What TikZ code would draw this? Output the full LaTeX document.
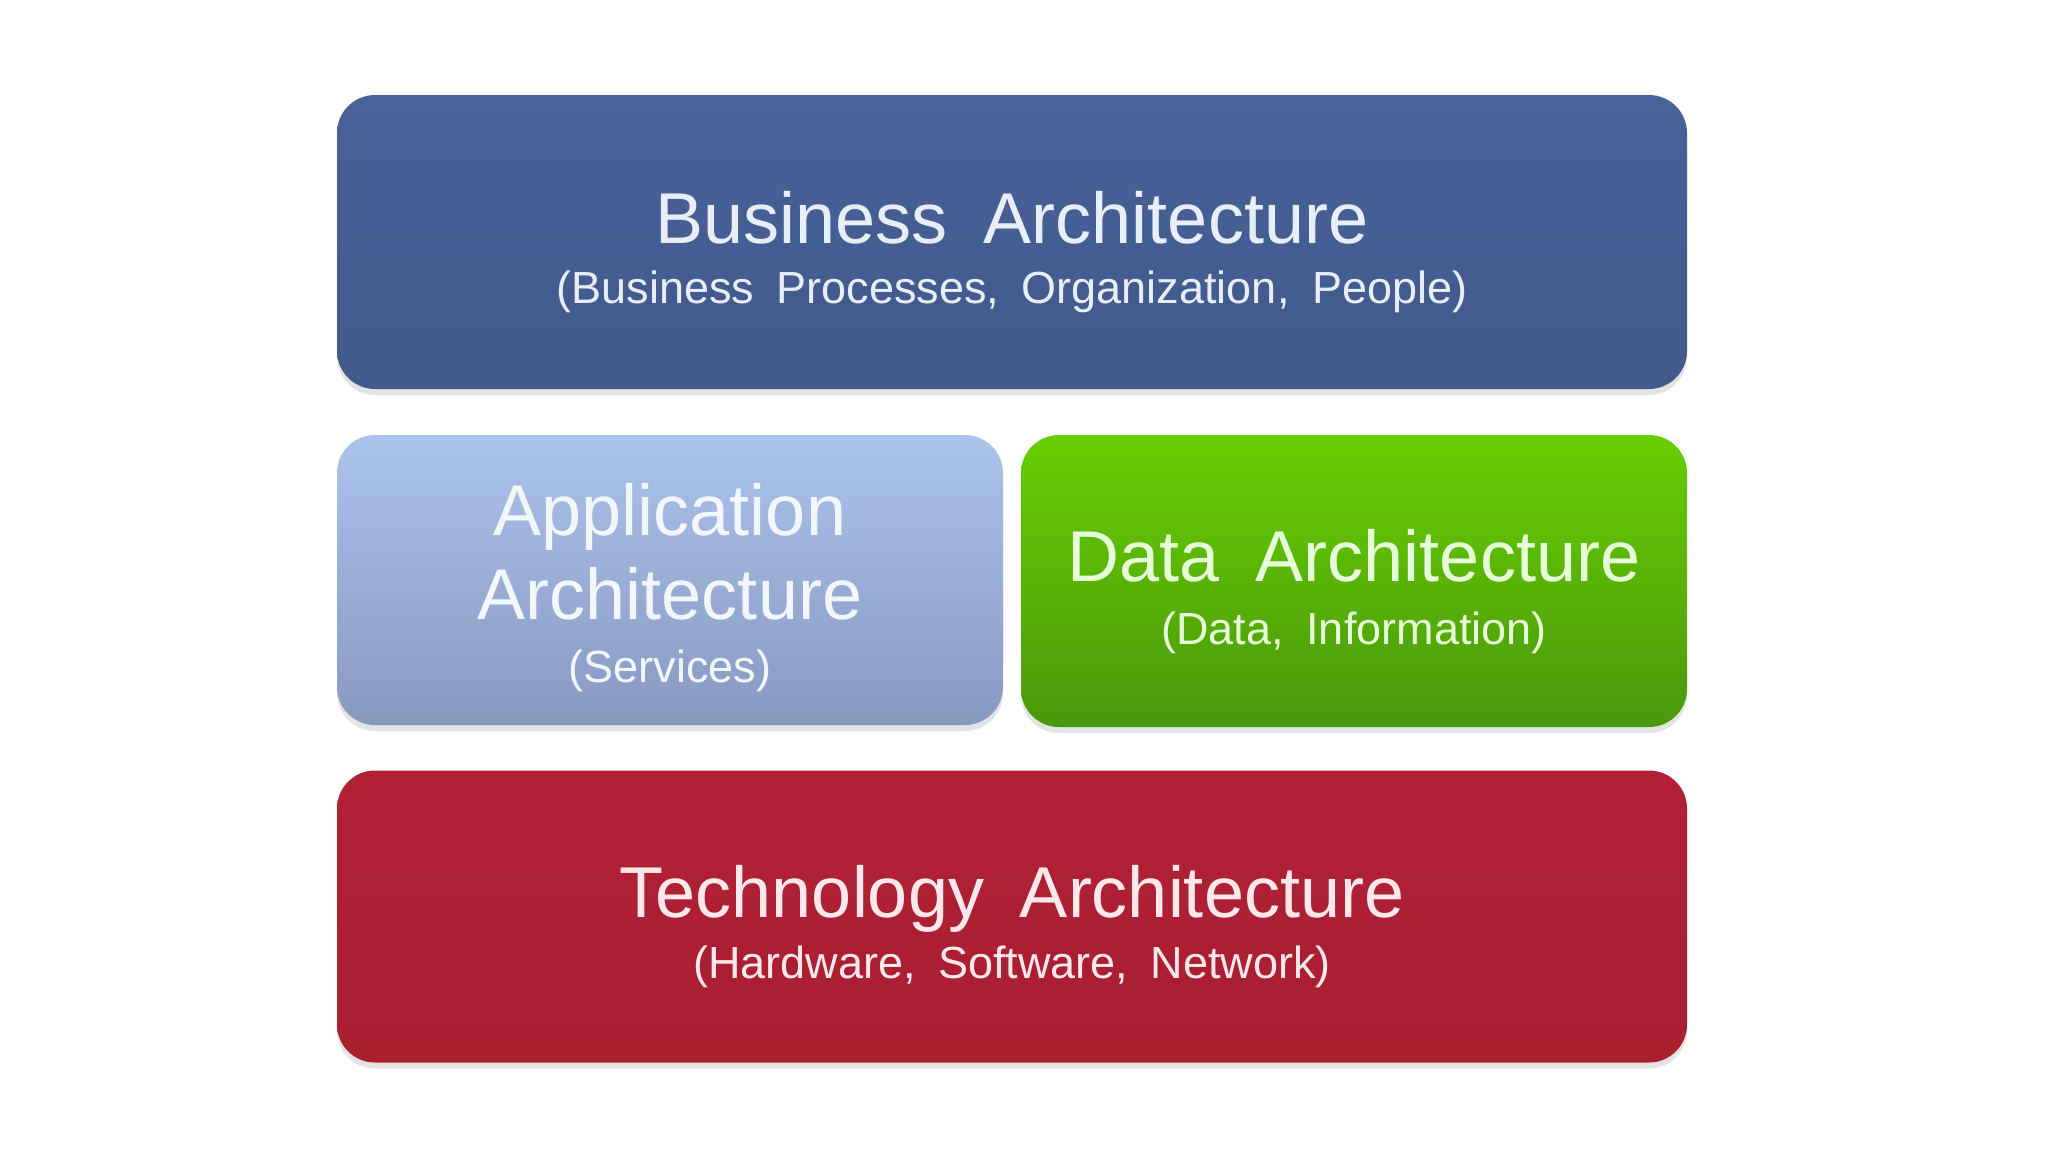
\documentclass[tikz,border=0pt]{standalone}
\usepackage{fontspec}
\setmainfont{Liberation Sans}[WordSpace=1.8]
\usetikzlibrary{shadows}
\definecolor{biztop}{HTML}{48629A}
\definecolor{bizbot}{HTML}{41598A}
\definecolor{apptop}{HTML}{ABC3EB}
\definecolor{appbot}{HTML}{8899C0}
\definecolor{datatop}{HTML}{68CE02}
\definecolor{databot}{HTML}{4A980C}
\definecolor{techtop}{HTML}{B22036}
\definecolor{techbot}{HTML}{A81F30}
\definecolor{biztxt}{HTML}{E8EEF8}
\definecolor{apptxt}{HTML}{F2F6FD}
\definecolor{datatxt}{HTML}{E6FFD8}
\definecolor{techtxt}{HTML}{FFE8EC}
\begin{document}
\begin{tikzpicture}[x=1pt,y=-1pt,
  box/.style={rounded corners=38pt, draw=none, inner sep=0pt,
    drop shadow={shadow xshift=0pt,shadow yshift=-6pt,opacity=0.22}},
  ttl/.style={anchor=base, inner sep=0pt, font=\fontsize{72}{80}\selectfont},
  subt/.style={anchor=base, inner sep=0pt, font=\fontsize{45}{52}\selectfont}]
\useasboundingbox[fill=white] (0,0) rectangle (2048,1152);

% boxes
\node[box, minimum width=1350pt, minimum height=294pt, top color=biztop, bottom color=bizbot] (biz) at (1012,242) {};
\node[box, minimum width=666pt, minimum height=290pt, top color=apptop, bottom color=appbot] (app) at (670,580) {};
\node[box, minimum width=666pt, minimum height=292pt, top color=datatop, bottom color=databot] (data) at (1354,581) {};
\node[box, minimum width=1350pt, minimum height=292pt, top color=techtop, bottom color=techbot] (tech) at (1012,916.5) {};

% texts
\node[ttl, text=biztxt] (bizt) at (1012,243) {Business Architecture};
\node[subt, text=biztxt] (bizs) at (1012,303) {(Business Processes, Organization, People)};

\node[ttl, text=apptxt] (appt1) at (670,535) {Application};
\node[ttl, text=apptxt] (appt2) at (670,619) {Architecture};
\node[subt, text=apptxt] (apps) at (670,682) {(Services)};

\node[ttl, text=datatxt] (datat) at (1354,581) {Data Architecture};
\node[subt, text=datatxt] (datas) at (1354,644) {(Data, Information)};

\node[ttl, text=techtxt] (techt) at (1012,917) {Technology Architecture};
\node[subt, text=techtxt] (techs) at (1012,978) {(Hardware, Software, Network)};
\end{tikzpicture}
\end{document}
